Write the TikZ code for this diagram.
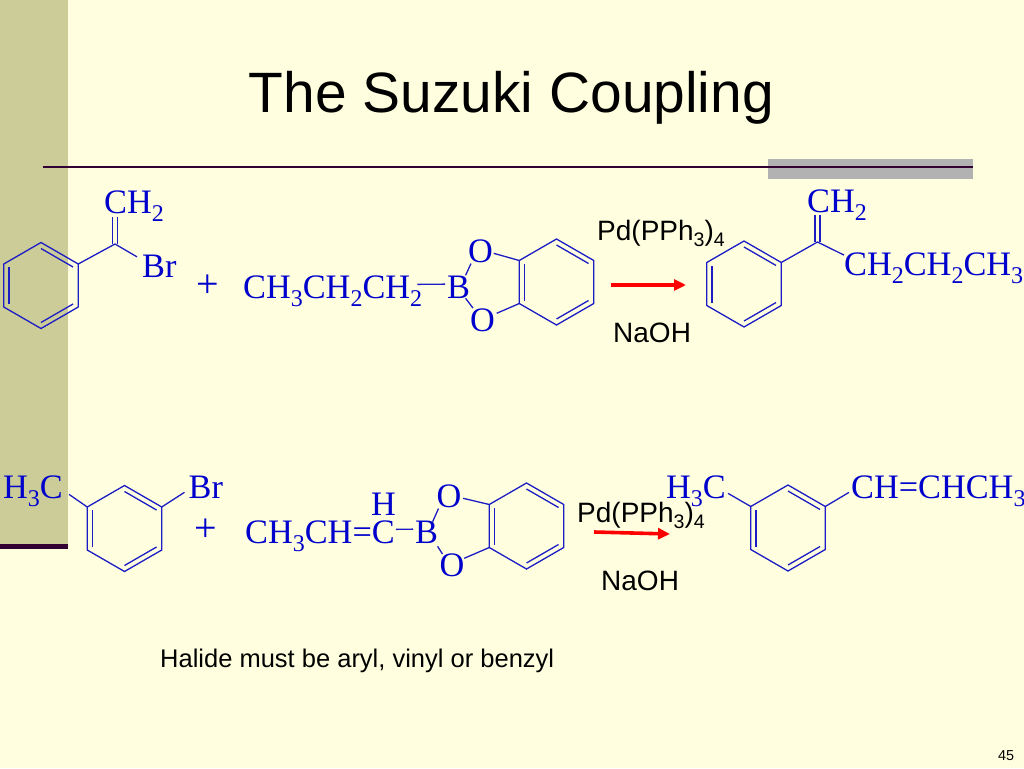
\documentclass[tikz,border=0pt]{standalone}
\usepackage{fontspec}
\setmainfont{Liberation Serif}
\newfontfamily\arialfont{Liberation Sans}
\usetikzlibrary{arrows.meta}
\definecolor{slidebg}{HTML}{FFFFE0}
\definecolor{sidebar}{HTML}{CCCC99}
\definecolor{rulecol}{HTML}{330033}
\definecolor{grayband}{HTML}{B2B2B2}
\definecolor{chemblue}{HTML}{0000CC}
\definecolor{bondblue}{HTML}{1C1CC4}
\newcommand{\low}[1]{\raisebox{-0.24em}{\scalebox{0.7}{#1}}}
\tikzset{
    chem/.style={inner sep=0pt,anchor=base west,text=chemblue,font=\fontsize{34.3}{40}\selectfont},
    plussign/.style={inner sep=0pt,anchor=base,text=chemblue,font=\fontsize{40}{44}\selectfont},
    reagent/.style={inner sep=0pt,anchor=base west,text=black,font=\arialfont\fontsize{28}{32}\selectfont},
    bond/.style={draw=bondblue,line width=1.3pt},
    redarrow/.style={draw=red,line width=3.6pt,-{Triangle[length=12pt,width=11pt]}},
    benzring/.pic={
        \foreach \n/\a in {t/-90,ur/-30,lr/30,b/90,ll/150,ul/-150}
            \coordinate (-\n) at (\a:43);
        \draw[bond] (-t) -- (-ur) -- (-lr) -- (-b) -- (-ll) -- (-ul) -- cycle;
        \draw[bond] (-90:37) -- (-30:37);
        \draw[bond] (30:37) -- (90:37);
        \draw[bond] (150:37) -- (-150:37);
    }
}
\begin{document}
\begin{tikzpicture}[x=1pt,y=-1pt]
    \useasboundingbox (0,0) rectangle (1024,768);
    \fill[slidebg] (0,0) rectangle (1024,768);
    \fill[sidebar] (0,0) rectangle (68,545);
    \fill[rulecol] (0,543.5) rectangle (68,548.5);
    \fill[grayband] (768,159) rectangle (973,179);
    \draw[rulecol,line width=2.6pt] (43,167) -- (973,167);
    \node[inner sep=0pt,anchor=base,font=\arialfont\fontsize{56.9}{60}\selectfont] (title) at (511.5,112) {The Suzuki Coupling};

    \pic (ringa) at (41,285.5) {benzring};
    \coordinate (cva) at (115,244);
    \coordinate (cvb) at (115,217);
    \node[chem] (cha) at (104,213) {CH\low{2}};
    \node[chem] (bra) at (142,277) {Br};
    \draw[bond] (ringa-ur) -- (cva) -- ([xshift=-5pt,yshift=-2.5pt]bra.north west);
    \draw[bond] ([xshift=-2.5pt]cva) -- ([xshift=-2.5pt]cvb);
    \draw[bond] ([xshift=2.5pt]cva) -- ([xshift=2.5pt]cvb);
    \node[plussign] (plusa) at (208,297) {+};
    \node[chem] (chb) at (243,298) {CH\low{3}CH\low{2}CH\low{2}};
    \node[chem] (bora) at (447,298) {B};
    \node[chem] (oa) at (468,262) {O};
    \node[chem] (ob) at (470,331) {O};
    \pic (ringb) at (556.5,282) {benzring};
    \draw[bond] ([shift={(-5pt,6.5pt)}]chb.east) -- ([shift={(-2pt,2.7pt)}]bora.west);
    \draw[bond] ([xshift=-4.7pt]bora.north east) -- ([shift={(3pt,-1pt)}]oa.south west);
    \draw[bond] ([xshift=-4.7pt]bora.south east) -- ([xshift=3pt]ob.north west);
    \draw[bond] ([shift={(0.5pt,-2.5pt)}]oa.east) -- (ringb-ul);
    \draw[bond] ([shift={(1.5pt,6.5pt)}]ob.east) -- (ringb-ll);

    \node[reagent] (pda) at (597,240) {Pd(PPh\low{3})\low{4}};
    \node[reagent] (naa) at (613,342) {NaOH};
    \coordinate (arra) at (611,285);
    \coordinate (arrb) at (686,285);
    \draw[redarrow] (arra) -- (arrb);

    \pic (ringc) at (744,284) {benzring};
    \coordinate (cvc) at (817.5,242);
    \coordinate (cvd) at (817.5,215);
    \node[chem] (chd) at (807,212) {CH\low{2}};
    \node[chem] (che) at (844,275) {CH\low{2}CH\low{2}CH\low{3}};
    \draw[bond] (ringc-ur) -- (cvc) -- ([yshift=-3pt]che.north west);
    \draw[bond] ([xshift=-2.5pt]cvc) -- ([xshift=-2.5pt]cvd);
    \draw[bond] ([xshift=2.5pt]cvc) -- ([xshift=2.5pt]cvd);

    \pic (ringd) at (124.5,528.5) {benzring};
    \node[chem] (hca) at (3,498) {H\low{3}C};
    \node[chem] (brb) at (188.5,498) {Br};
    \draw[bond] ([shift={(6pt,-3.5pt)}]hca.east) -- (ringd-ul);
    \draw[bond] (ringd-ur) -- ([shift={(-4pt,6pt)}]brb.south west);
    \node[plussign] (plusb) at (206,541) {+};
    \node[chem] (chf) at (245,543) {CH\low{3}CH=C};
    \node[chem] (hb) at (371,515) {H};
    \node[chem] (borb) at (415,543) {B};
    \node[chem] (oc) at (436.5,507) {O};
    \node[chem] (od) at (439.5,576) {O};
    \pic (ringe) at (526.5,526) {benzring};
    \draw[bond] ([shift={(1pt,6.5pt)}]chf.east) -- ([shift={(-2pt,2.7pt)}]borb.west);
    \draw[bond] ([shift={(-5.7pt,-1.5pt)}]borb.north east) -- ([shift={(2pt,-1pt)}]oc.south west);
    \draw[bond] ([shift={(-0.7pt,-3pt)}]borb.south east) -- ([shift={(3pt,-1pt)}]od.north west);
    \draw[bond] ([shift={(1.5pt,-2.5pt)}]oc.east) -- (ringe-ul);
    \draw[bond] ([shift={(-0.5pt,6.5pt)}]od.east) -- (ringe-ll);

    \node[reagent] (pdb) at (577,522) {Pd(PPh\low{3})\low{4}};
    \node[reagent] (nab) at (601,590) {NaOH};
    \coordinate (arrc) at (594,532);
    \coordinate (arrd) at (670,534);
    \draw[redarrow] (arrc) -- (arrd);

    \pic (ringf) at (788,528) {benzring};
    \node[chem] (hcb) at (666,498) {H\low{3}C};
    \node[chem] (chg) at (851,498) {CH=CHCH\low{3}};
    \draw[bond] ([shift={(2pt,-2.5pt)}]hcb.east) -- (ringf-ul);
    \draw[bond] (ringf-ur) -- ([shift={(-2pt,-1.5pt)}]chg.west);

    \node[reagent,font=\arialfont\fontsize{25.5}{30}\selectfont] (note) at (160,667) {Halide must be aryl, vinyl or benzyl};
    \node[reagent,font=\arialfont\fontsize{14.4}{16}\selectfont] (pageno) at (998,760) {45};
\end{tikzpicture}
\end{document}
